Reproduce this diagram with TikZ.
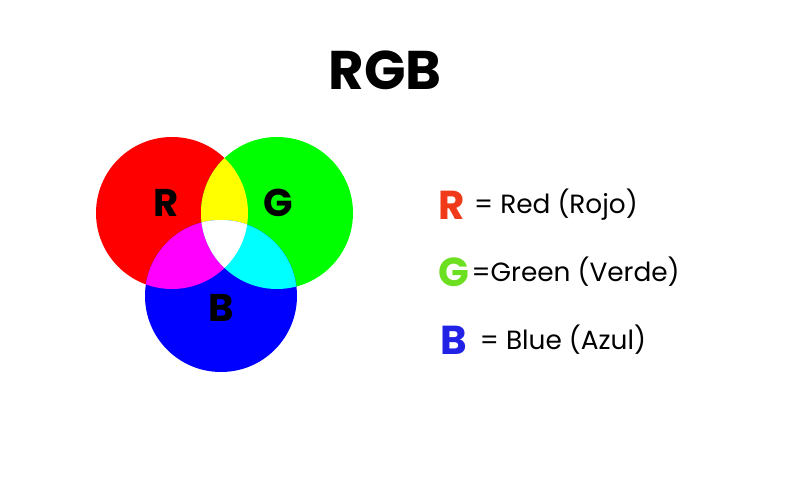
\documentclass[tikz,border=0pt]{standalone}
\usepackage{fontspec}
\setmainfont{Poppins}
\usetikzlibrary{positioning}
\definecolor{keyred}{HTML}{F03A1A}
\definecolor{keygreen}{HTML}{6CE020}
\definecolor{keyblue}{HTML}{2222E6}
\definecolor{mixcyan}{HTML}{00FFFF}
\definecolor{mixmagenta}{HTML}{FF00FF}
\definecolor{mixyellow}{HTML}{FFFF00}
\tikzset{
  key/.style={anchor=west, inner sep=0pt, font=\fontsize{15}{18}\selectfont},
  keyletter/.style={anchor=west, inner sep=0pt, font=\bfseries\fontsize{23}{26}\selectfont},
  big/.style={font=\bfseries\fontsize{22}{24}\selectfont},
}
\begin{document}
\begin{tikzpicture}[x=0.02cm,y=-0.02cm]
		\useasboundingbox (0,0) rectangle (800,500);
		% circles
		\fill[red] (172,213) circle (76);
		\fill[green] (277,213) circle (76);
		\fill[blue] (221,296) circle (76);
		\begin{scope}
			\clip (172,213) circle (76);
			\fill[mixyellow] (277,213) circle (76);
			\fill[mixmagenta] (221,296) circle (76);
		\end{scope}
		\begin{scope}
			\clip (277,213) circle (76);
			\fill[mixcyan] (221,296) circle (76);
			\clip (172,213) circle (76);
			\fill[white] (221,296) circle (76);
		\end{scope}
		\node[big] (r) at (166,203) {R};
		\node[big] (g) at (278,203) {G};
		\node[big] (b) at (221,308) {B};
		% title
		\node[font=\bfseries\fontsize{31}{34}\selectfont] (title) at (385,70) {RGB};
		% legend
		\node[keyletter, text=keyred] (kr) at (438,205) {R};
		\node[key, right=5pt of kr] {= Red (Rojo)};
		\node[keyletter, text=keygreen] (kg) at (438,272) {G};
		\node[key, right=1pt of kg] {=Green (Verde)};
		\node[keyletter, text=keyblue] (kb) at (440,340) {B};
		\node[key, right=7pt of kb] {= Blue (Azul)};
	\end{tikzpicture}
\end{document}
